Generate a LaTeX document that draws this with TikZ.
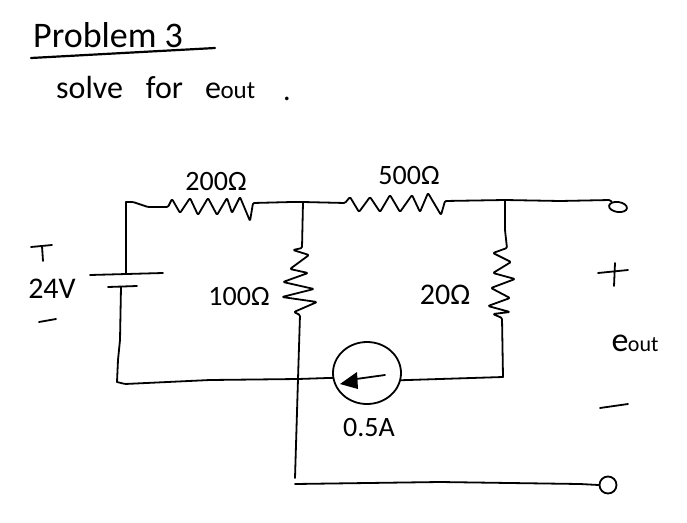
\documentclass[tikz,border=0pt]{standalone}
\usepackage{fontspec}
\usetikzlibrary{shapes.geometric}
\setmainfont{Carlito}
\tikzset{
  ink/.style={line width=1.8pt,line cap=round,line join=round,black},
  pen/.style={line width=1.8pt,line cap=round,line join=round,rounded corners=1.2pt,black},
  lab/.style={inner sep=0pt,text=black},
}
\newcommand{\fsz}[1]{\fontsize{#1}{#1}\selectfont}
\begin{document}
\begin{tikzpicture}[x=1pt,y=-1pt]
\useasboundingbox (0,0) rectangle (687,522);
\fill[white] (0,0) rectangle (687,522);
% named points
\coordinate (TL) at (126,202);
\coordinate (J1) at (303,202);
\coordinate (J2) at (505,200);
\coordinate (J3) at (298,379);
\coordinate (BL) at (117,382);
\coordinate (BR) at (503,377);
\coordinate (P1) at (126,273);
\coordinate (P2) at (121,287);
\coordinate (B1) at (295,478);
\coordinate (B2) at (295,484);
% sources and terminals
\node[ink,draw,ellipse,minimum width=68pt,minimum height=62pt,inner sep=0pt] (src) at (367,373) {};
\node[ink,draw,ellipse,minimum width=18pt,minimum height=10pt,inner sep=0pt,rotate=-8] (t1) at (618,207) {};
\node[ink,draw,circle,minimum size=17pt,inner sep=0pt] (t2) at (608,485) {};
% text
\node[lab,font=\fsz{36},anchor=base west] (title) at (33,47) {Problem 3};
\node[lab,font=\fsz{32},anchor=base west] (task) at (56,98) {solve\hspace{23pt}for\hspace{22pt}e\kern-0.5pt{\fsz{25}out}};
\node[lab,font=\fsz{30},anchor=base west] (dot) at (283,100) {.};
\node[lab,font=\fsz{28}] (r200) at (216,182) {200Ω};
\node[lab,font=\fsz{28}] (r500) at (409,176) {500Ω};
\node[lab,font=\fsz{28}] (r100) at (239,297) {100Ω};
\node[lab,font=\fsz{30}] (r20) at (445,295) {20Ω};
\node[lab,font=\fsz{30}] (v) at (52,289) {24V};
\node[lab,font=\fsz{28}] (amp) at (369,428) {0.5A};
\node[lab,font=\fsz{34}] (eout) at (635,343) {e\kern-0.5pt{\fsz{22}out}};
% signs
\coordinate (vp1) at (31,247); \coordinate (vp2) at (52,245);
\coordinate (vp3) at (42,246); \coordinate (vp4) at (43,261);
\draw[ink] (vp1) -- (vp2) (vp3) -- (vp4);
\coordinate (vm1) at (39,322); \coordinate (vm2) at (56,319);
\draw[ink] (vm1) -- (vm2);
\coordinate (op1) at (598,273); \coordinate (op2) at (628,270);
\coordinate (op3) at (615,263); \coordinate (op4) at (614,286);
\draw[ink] (op1) -- (op2) (op3) -- (op4);
\coordinate (om1) at (600,408); \coordinate (om2) at (628,404);
\draw[ink] (om1) -- (om2);
% underline
\coordinate (u1) at (31,58); \coordinate (u2) at (215,48);
\draw[line width=2.2pt,line cap=round] (u1) -- (u2);
% top rail with resistors
\draw[pen] (TL) -- (133,202) -- (148,207) -- (168,207)
  -- (172,199) -- (180,213) -- (190,198) -- (198,215) -- (208,198) -- (217,215)
  -- (227,198) -- (232,213) -- (240,197) -- (250,221) -- (253,203) -- (292,202) -- (J1);
\draw[pen] (J1) -- (345,203)
  -- (350,197) -- (359,212) -- (370,197) -- (380,212) -- (390,195) -- (400,212)
  -- (412,195) -- (420,212) -- (428,193) -- (441,215) -- (445,201) -- (J2);
\draw[pen] (J2) -- (560,201) -- (610,200) -- (t1.north west);
% vertical 100 ohm
\draw[pen] (J1) -- (302,248) -- (293,250) -- (309,255) -- (290,269) -- (308,273) -- (283,282)
  -- (314,289) -- (282,297) -- (317,302) -- (294,312) -- (300,315) -- (J3);
% vertical 20 ohm
\draw[pen] (J2) -- (505,230) -- (507,248) -- (493,253) -- (511,262) -- (493,273) -- (515,279)
  -- (491,288) -- (510,298) -- (488,306) -- (510,312) -- (493,314) -- (502,318) -- (BR);
% battery
\coordinate (b1) at (90,275); \coordinate (b2) at (163,273);
\coordinate (b3) at (108,287); \coordinate (b4) at (137,286);
\draw[ink] (b1) -- (b2) (b3) -- (b4);
\draw[pen] (TL) -- (126,240) -- (P1);
\draw[pen] (P2) -- (120,340) -- (118,360) -- (BL);
% bottom rail
\draw[pen] (BL) -- (125,384) -- (210,380) -- (J3) -- (src.188);
\draw[pen] (src.-12) -- (BR);
\draw[pen] (J3) -- (B1);
\draw[pen] (B2) -- (440,482) -- (580,484) -- (t2.west);
% current arrow
\coordinate (a1) at (385,375); \coordinate (a2) at (356,379);
\draw[ink] (a1) -- (a2);
\coordinate (h1) at (357,372); \coordinate (h2) at (340,384); \coordinate (h3) at (358,389);
\fill[black] (h1) -- (h2) -- (h3) -- cycle;
\end{tikzpicture}
\end{document}
